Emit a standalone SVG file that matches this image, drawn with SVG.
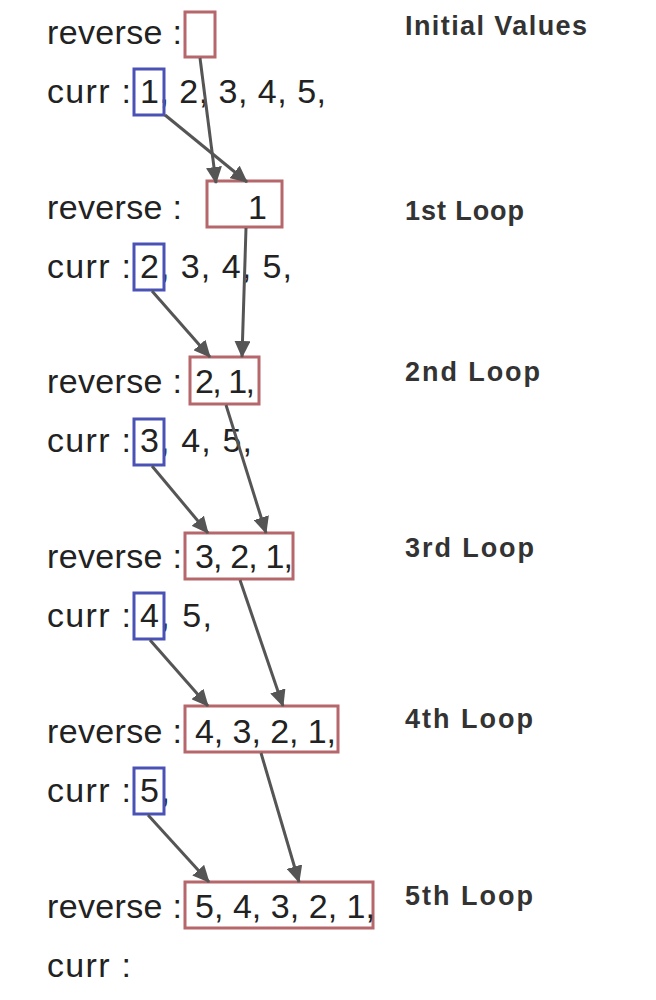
<svg xmlns="http://www.w3.org/2000/svg" width="656" height="1000" viewBox="0 0 656 1000">
<style>
.t{font-family:"Liberation Sans",Arial,sans-serif;font-size:34px;fill:#222}
.h{font-family:"Liberation Sans",Arial,sans-serif;font-size:27px;font-weight:bold;fill:#333}
.r{fill:none;stroke:#b5676b;stroke-width:3}
.b{fill:none;stroke:#4a53b5;stroke-width:3}
.c line{stroke:#555;stroke-width:3;marker-end:url(#a)}
</style>
<defs><marker id="a" markerUnits="userSpaceOnUse" markerWidth="18" markerHeight="16" refX="16" refY="8" orient="auto"><path d="M0,0 L17,8 L0,16 Z" fill="#555"/></marker></defs>
<rect width="656" height="1000" fill="#fff"/>
<g id="row0"><text class="t" x="47" y="44" textLength="135">reverse :</text><rect class="r" x="185" y="12" width="30" height="45"/>
<text class="t" x="47" y="103" textLength="84">curr :</text><text class="t" x="140" y="103" textLength="186">1, 2, 3, 4, 5,</text><rect class="b" x="134" y="69" width="30" height="46"/><text class="h" x="405" y="35" textLength="182">Initial Values</text></g>
<g id="row1"><text class="t" x="47" y="219" textLength="135">reverse :</text><rect class="r" x="207" y="181" width="75" height="46"/><text class="t" x="248" y="219">1</text>
<text class="t" x="47" y="278" textLength="84">curr :</text><text class="t" x="140" y="278" textLength="152">2, 3, 4, 5,</text><rect class="b" x="134" y="244" width="30" height="46"/><text class="h" x="405" y="220" textLength="119">1st Loop</text></g>
<g id="row2"><text class="t" x="47" y="393" textLength="135">reverse :</text><rect class="r" x="190" y="357" width="69" height="47"/><text class="t" x="195" y="393" textLength="60">2, 1,</text>
<text class="t" x="47" y="452" textLength="84">curr :</text><text class="t" x="140" y="452" textLength="112">3, 4, 5,</text><rect class="b" x="134" y="419" width="30" height="46"/><text class="h" x="405" y="381" textLength="135">2nd Loop</text></g>
<g id="row3"><text class="t" x="47" y="568" textLength="135">reverse :</text><rect class="r" x="185" y="533" width="108" height="46"/><text class="t" x="195" y="568" textLength="98">3, 2, 1,</text>
<text class="t" x="47" y="627" textLength="84">curr :</text><text class="t" x="140" y="627" textLength="72">4, 5,</text><rect class="b" x="134" y="593" width="30" height="46"/><text class="h" x="405" y="557" textLength="129">3rd Loop</text></g>
<g id="row4"><text class="t" x="47" y="743" textLength="135">reverse :</text><rect class="r" x="185" y="706" width="153" height="46"/><text class="t" x="195" y="743" textLength="141">4, 3, 2, 1,</text>
<text class="t" x="47" y="802" textLength="84">curr :</text><text class="t" x="140" y="802" textLength="30">5,</text><rect class="b" x="134" y="768" width="30" height="46"/><text class="h" x="405" y="728" textLength="128">4th Loop</text></g>
<g id="row5"><text class="t" x="47" y="918" textLength="135">reverse :</text><rect class="r" x="185" y="882" width="188" height="46"/><text class="t" x="195" y="918" textLength="180">5, 4, 3, 2, 1,</text>
<text class="t" x="47" y="977" textLength="84">curr :</text><text class="h" x="405" y="905" textLength="128">5th Loop</text></g>
<g id="connectors" class="c">
<line x1="200" y1="58" x2="216" y2="183"/>
<line x1="165" y1="115" x2="247" y2="182"/>
<line x1="246" y1="228" x2="242" y2="357"/>
<line x1="152" y1="291" x2="210" y2="357"/>
<line x1="226" y1="405" x2="266" y2="533"/>
<line x1="152" y1="466" x2="208" y2="533"/>
<line x1="240" y1="580" x2="283" y2="706"/>
<line x1="150" y1="640" x2="208" y2="706"/>
<line x1="261" y1="753" x2="299" y2="882"/>
<line x1="148" y1="815" x2="209" y2="882"/>
</g>
</svg>
